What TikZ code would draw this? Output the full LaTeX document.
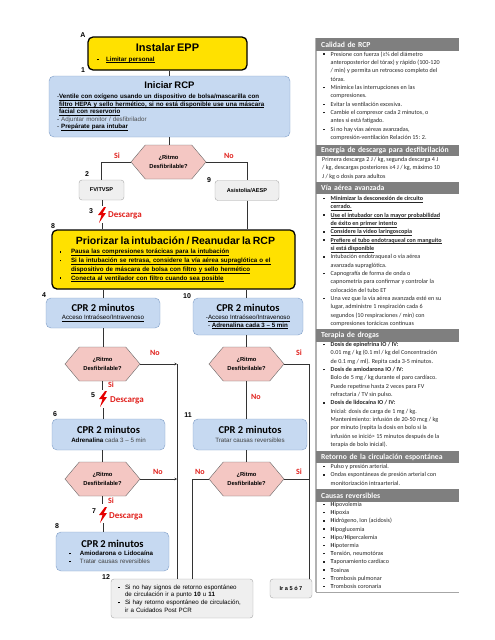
\documentclass[tikz,border=0pt]{standalone}
\usepackage{fontspec}
\setmainfont{Liberation Sans}
\newfontfamily\calfont{Carlito}
\usetikzlibrary{arrows.meta,shapes.symbols,positioning}
\definecolor{amarillo}{HTML}{FFE100}
\definecolor{azul}{HTML}{C6D9F1}
\definecolor{azulborde}{HTML}{7F9DC6}
\definecolor{rosa}{HTML}{F4C7C3}
\definecolor{gris}{HTML}{EFEFEF}
\definecolor{cabecera}{HTML}{7F7F7F}
\definecolor{rojo}{HTML}{E0201C}
\newcommand{\ubf}[1]{\underline{\smash{\textbf{#1}}}}
\newcommand{\punto}{\raisebox{1.2pt}{\rule{1.5pt}{1.5pt}}}
\newcommand{\vin}[1]{\makebox[7.5pt][l]{\punto}#1}
\newcommand{\sig}[1]{\hspace*{7.5pt}#1}
\newcommand{\cprtitle}{{\calfont\bfseries\fontsize{10.5}{12}\selectfont CPR 2 minutos}}

\begin{document}
\begin{tikzpicture}[x=1pt, y=-1pt, >=Stealth,
  every node/.style={font=\fontsize{6.2}{7.6}\selectfont},
  alarma/.style={draw=black, line width=1.3pt, rounded corners=5pt, fill=amarillo, inner sep=0pt, text width=#1, align=left},
  azulbox/.style={draw=azulborde, rounded corners=5pt, fill=azul, inner sep=0pt, align=center},
  grisbox/.style={draw=gray!70, rounded corners=3pt, fill=gris, inner sep=0pt, align=center},
  decision/.style={signal, signal to=east and west, signal pointer angle=100,
    draw=black!60, fill=rosa, minimum width=75pt, minimum height=34pt, inner sep=0pt, align=center,
    font=\bfseries\fontsize{5.8}{8.8}\selectfont},
  num/.style={inner sep=0pt, font=\bfseries\fontsize{7}{8}\selectfont},
  rama/.style={inner sep=0pt, text=rojo, font=\calfont\bfseries\fontsize{8}{9}\selectfont},
  descarga/.style={inner sep=0pt, anchor=west, text=rojo, font=\calfont\bfseries\fontsize{9}{10}\selectfont},
  link/.style={draw=black!80, line width=1pt},
  flecha/.style={link, ->, >={Stealth[length=2.5pt,width=2.5pt]}},
  panelhead/.style={fill=cabecera, text=white, anchor=north west, inner sep=0pt, inner xsep=5pt,
    minimum width=143pt, text width=133pt, align=left, font=\calfont\bfseries\fontsize{7.7}{8}\selectfont},
  panelbody/.style={anchor=north west, inner sep=0pt, align=left, text=black!85, font=\calfont\fontsize{6.1}{8.35}\selectfont},
  rayo/.pic={\fill[red!90!black] (2,-8) -- (-4,0) -- (-0.5,0) -- (-3,8) -- (4,-2) -- (0.8,-2) -- (4,-8) -- cycle;}]
  \useasboundingbox (0,0) rectangle (495,640);

  % columna izquierda
  \node[alarma=159pt, minimum height=33pt] (instalar) at (167.5,53.5)
    {\makebox[159pt][c]{\bfseries\fontsize{11}{14}\selectfont Instalar EPP}\\[2pt]
     \hspace*{9pt}\makebox[9pt][l]{\punto}\ubf{Limitar personal}};
  \node[azulbox, minimum width=241pt, minimum height=61pt, text width=241pt, align=left] (iniciar) at (169.5,106.5)
    {\makebox[241pt][c]{\bfseries\fontsize{9.5}{12}\selectfont Iniciar RCP}\\[2pt]
     \hspace*{8pt}-\ubf{Ventile con oxígeno usando un dispositivo de bolsa/mascarilla con}\\
     \hspace*{10pt}\ubf{filtro HEPA y sello hermético, si no está disponible use una máscara}\\
     \hspace*{10pt}\ubf{facial con reservorio}\\
     \hspace*{8pt}- {\color{black!70}Adjuntar monitor / desfibrilador}\\
     \hspace*{8pt}- \ubf{Prepárate para intubar}};
  \node[decision] (ritmoA) at (168.5,162) {¿Ritmo\\Desfibrilable?};
  \node[grisbox, minimum width=45pt, minimum height=20pt, font=\bfseries\fontsize{5.6}{7}\selectfont] (fv) at (101.5,190) {FV/TVSP};
  \node[grisbox, minimum width=64pt, minimum height=20pt, font=\bfseries\fontsize{5.6}{7}\selectfont] (asistolia) at (247,190.5) {Asistolia/AESP};
  \coordinate (b3) at (102,215);
  \pic at (b3) {rayo};
  \node[descarga] (d3) at (108,215) {Descarga};
  \node[alarma=243pt, minimum height=59pt] (priorizar) at (173.5,259.5)
    {\makebox[243pt][c]{\hspace*{4pt}\bfseries\fontsize{10.5}{14}\selectfont Priorizar la intubación / Reanudar la RCP}\\[1.5pt]
     \hspace*{8pt}\makebox[11pt][l]{\punto}\ubf{Pausa las compresiones torácicas para la intubación}\\[1.2pt]
     \hspace*{8pt}\makebox[11pt][l]{\punto}\ubf{Si la intubación se retrasa, considere la vía aérea supraglótica o el}\\[1.2pt]
     \hspace*{19pt}\ubf{dispositivo de máscara de bolsa con filtro y sello hermético}\\[1.2pt]
     \hspace*{8pt}\makebox[11pt][l]{\punto}\ubf{Conecta al ventilador con filtro cuando sea posible}};
  \node[azulbox, minimum width=114pt, minimum height=30pt] (cprA) at (103,313)
    {\cprtitle\\[1pt]\underline{\smash{Acceso Intraóseo/Intravenoso}}};
  \node[azulbox, minimum width=110pt, minimum height=37pt] (cprB) at (248,316.5)
    {\cprtitle\\[1pt]-\underline{\smash{Acceso Intraóseo/Intravenoso}}\\ - \ubf{Adrenalina cada 3 -- 5 min}};
  \node[decision] (ritmoB) at (102.5,364) {¿Ritmo\\Desfibrilable?};
  \node[decision] (ritmoC) at (246.5,364) {¿Ritmo\\Desfibrilable?};
  \coordinate (b5) at (103,399);
  \pic at (b5) {rayo};
  \node[descarga] (d5) at (110,400) {Descarga};
  \node[azulbox, minimum width=113pt, minimum height=31pt] (cprC) at (108.5,434.5)
    {\cprtitle\\[1pt]\textbf{Adrenalina} {\color{black!75}cada 3 -- 5 min}};
  \node[azulbox, minimum width=114pt, minimum height=31pt] (cprD) at (250,434.5)
    {\cprtitle\\[1pt]{\color{black!75}Tratar causas reversibles}};
  \node[decision] (ritmoD) at (102.5,479) {¿Ritmo\\Desfibrilable?};
  \node[decision] (ritmoE) at (246.5,479) {¿Ritmo\\Desfibrilable?};
  \coordinate (b7) at (103,515);
  \pic at (b7) {rayo};
  \node[descarga] (d7) at (109,516) {Descarga};
  \node[azulbox, minimum width=113pt, minimum height=39pt, text width=113pt, align=left] (cprE) at (112.5,551.5)
    {\makebox[113pt][c]{\cprtitle}\\[1pt]
     \hspace*{13pt}\makebox[11pt][l]{\punto}\textbf{Amiodarona o Lidocaína}\\
     \hspace*{13pt}\makebox[11pt][l]{\punto}{\color{black!75}Tratar causas reversibles}};
  \node[grisbox, minimum width=142pt, minimum height=39pt, text width=142pt, align=left] (fin) at (182,598.5)
    {\hspace*{7pt}\makebox[7pt][l]{\punto}Si no hay signos de retorno espontáneo\\
     \hspace*{14pt}de circulación ir a punto \textbf{10} u \textbf{11}\\
     \hspace*{7pt}\makebox[7pt][l]{\punto}Si hay retorno espontáneo de circulación,\\
     \hspace*{14pt}ir a Cuidados Post PCR};
  \node[grisbox, minimum width=42pt, minimum height=19pt, font=\bfseries\fontsize{5.6}{7}\selectfont] (ir) at (291,588.5) {Ir a 5 ó 7};

  % numeros
  \node[num] (nA) at (83,35) {A};
  \node[num] (n1) at (83,70) {1};
  \node[num] (n2) at (87,174) {2};
  \node[num] (n9) at (209,180) {9};
  \node[num] (n3) at (91,211) {3};
  \node[num] (n8) at (53,226) {8};
  \node[num] (n4) at (44,295) {4};
  \node[num] (n10) at (187,296) {10};
  \node[num] (n5) at (93,395) {5};
  \node[num] (n6) at (55,414) {6};
  \node[num] (n11) at (188,415) {11};
  \node[num] (n7) at (94,511) {7};
  \node[num] (n8b) at (57,526) {8};
  \node[num] (n12) at (106,577) {12};

  % ramas
  \node[rama] (si1) at (117,156) {Si};
  \node[rama] (no1) at (229,156) {No};
  \node[rama] (no2) at (155,353) {No};
  \node[rama] (si2) at (299,353) {Si};
  \node[rama] (si3) at (111,385) {Si};
  \node[rama] (no3) at (256,397) {No};
  \node[rama] (no4) at (158,472) {No};
  \node[rama] (no5) at (200,472) {No};
  \node[rama] (si4) at (299,472) {Si};
  \node[rama] (si5) at (111,501) {Si};

  % conectores
  \draw[link] (iniciar |- instalar.south) -- (iniciar.north);
  \draw[link] (iniciar.south) -- (ritmoA.north -| iniciar.south);
  \draw[link] (ritmoA.west) -| (fv.north);
  \draw[link] (ritmoA.east) -| (asistolia.north);
  \draw[link] (fv.south -| b3) -- ++(0,6);
  \draw[link] (b3) ++(0,8) -- (priorizar.north -| b3);
  \draw[link] (asistolia.south) -- (priorizar.north -| asistolia.south);
  \draw[link] (priorizar.south -| cprA.north) -- (cprA.north);
  \draw[link] (priorizar.south -| ritmoC.north) -- (cprB.north -| ritmoC.north);
  \draw[link] (cprA.south) -- (ritmoB.north -| cprA.south);
  \draw[link] (cprB.south -| ritmoC.north) -- (ritmoC.north);
  \draw[link] (ritmoB.south) -- ++(0,9);
  \draw[link] (b5) ++(0,9) -- (cprC.north -| b5);
  \draw[link] (ritmoC.south) -- (cprD.north -| ritmoC.south);
  \draw[link] (cprC.south -| ritmoD.north) -- (ritmoD.north);
  \draw[link] (cprD.south -| ritmoE.north) -- (ritmoE.north);
  \draw[link] (ritmoD.south) -- ++(0,8);
  \draw[link] (b7) ++(0,8) -- (cprE.north -| b7);
  \draw[flecha] (ritmoB.east) -- (177,364);
  \draw[flecha] (ritmoD.east) -- (177,479);
  \draw[link] (177,364) -- (fin.north -| 177,364);
  \draw[link] (ritmoE.west) -- (192,479) -- (fin.north -| 192,479);
  \draw[link] (ritmoC.east) -- (309.5,364) -- (ir.north -| 309.5,364);
  \draw[link] (ritmoE.east) -- (309.5,479);

  % panel derecho
  \draw[gray!60, line width=1.8pt] (316,38) -- (316,592);
  \draw[gray!70, line width=.6pt] (316,592) -- (459,592);
  \node[panelhead, minimum height=13pt] (calidad) at (316,38) {Calidad de RCP};
  \node[panelbody] (calidadtxt) at (323,51.5)
    {\vin{Presione con fuerza (≥⅓ del diámetro}\\
     \sig{anteroposterior del tórax) y rápido (100-120}\\
     \sig{/ min) y permita un retroceso completo del}\\
     \sig{tórax.}\\
     \vin{Minimice las interrupciones en las}\\
     \sig{compresiones.}\\
     \vin{Evitar la ventilación excesiva.}\\
     \vin{Cambie el compresor cada 2 minutos, o}\\
     \sig{antes si está fatigado.}\\
     \vin{Si no hay vías aéreas avanzadas,}\\
     \sig{compresión-ventilación Relación 15: 2.}};
  \node[panelhead, minimum height=11pt] (energia) at (316,145) {Energía de descarga para desfibrilación};
  \node[panelbody] (energiatxt) at (322,157)
    {Primera descarga 2 J / kg, segunda descarga 4 J\\
     / kg, descargas posteriores ≥4 J / kg, máximo 10\\
     J / kg o dosis para adultos};
  \node[panelhead, minimum height=12pt] (via) at (316,182) {Vía aérea avanzada};
  \node[panelbody] (viatxt) at (323,197.5)
    {\vin{\ubf{Minimizar la desconexión de circuito}}\\
     \sig{\ubf{cerrado.}}\\
     \vin{\ubf{Use el intubador con la mayor probabilidad}}\\
     \sig{\ubf{de éxito en primer intento}}\\
     \vin{\ubf{Considere la video laringoscopia}}\\
     \vin{\ubf{Prefiere el tubo endotraqueal con manguito}}\\
     \sig{\ubf{si está disponible}}\\
     \vin{Intubación endotraqueal o vía aérea}\\
     \sig{avanzada supraglótica.}\\
     \vin{Capnografía de forma de onda o}\\
     \sig{capnometría para confirmar y controlar la}\\
     \sig{colocación del tubo ET}\\
     \vin{Una vez que la vía aérea avanzada esté en su}\\
     \sig{lugar, administre 1 respiración cada 6}\\
     \sig{segundos (10 respiraciones / min) con}\\
     \sig{compresiones torácicas continuas}};
  \node[panelhead, minimum height=13pt] (terapia) at (316,329) {Terapia de drogas};
  \node[panelbody] (terapiatxt) at (323,342)
    {\vin{\textbf{Dosis de epinefrina IO / IV:}}\\
     \sig{0.01 mg / kg (0.1 ml / kg del Concentración}\\
     \sig{de 0.1 mg / ml). Repita cada 3-5 minutos.}\\
     \vin{\textbf{Dosis de amiodarona IO / IV:}}\\
     \sig{Bolo de 5 mg / kg durante el paro cardíaco.}\\
     \sig{Puede repetirse hasta 2 veces para FV}\\
     \sig{refractaria / TV sin pulso.}\\
     \vin{\textbf{Dosis de lidocaína IO / IV:}}\\
     \sig{Inicial: dosis de carga de 1 mg / kg.}\\
     \sig{Mantenimiento: infusión de 20-50 mcg / kg}\\
     \sig{por minuto (repita la dosis en bolo si la}\\
     \sig{infusión se inició> 15 minutos después de la}\\
     \sig{terapia de bolo inicial).}};
  \node[panelhead, minimum height=12pt] (retorno) at (316,451) {Retorno de la circulación espontánea};
  \node[panelbody] (retornotxt) at (323,464)
    {\vin{Pulso y presión arterial.}\\
     \vin{Ondas espontáneas de presión arterial con}\\
     \sig{monitorización intraarterial.}};
  \node[panelhead, minimum height=13pt] (causas) at (316,489) {Causas reversibles};
  \node[panelbody, font=\calfont\fontsize{6.1}{8.2}\selectfont] (causastxt) at (323,502)
    {\vin{\textbf{H}ipovolemia}\\
     \vin{\textbf{H}ipoxia}\\
     \vin{\textbf{H}idrógeno, Ion (acidosis)}\\
     \vin{\textbf{H}ipoglucemia}\\
     \vin{\textbf{H}ipo/\textbf{H}ipercalemia}\\
     \vin{\textbf{H}ipotermia}\\
     \vin{\textbf{T}ensión, neumotórax}\\
     \vin{\textbf{T}aponamiento cardíaco}\\
     \vin{\textbf{T}oxinas}\\
     \vin{\textbf{T}rombosis pulmonar}\\
     \vin{\textbf{T}rombosis coronaria}};
\end{tikzpicture}
\end{document}
